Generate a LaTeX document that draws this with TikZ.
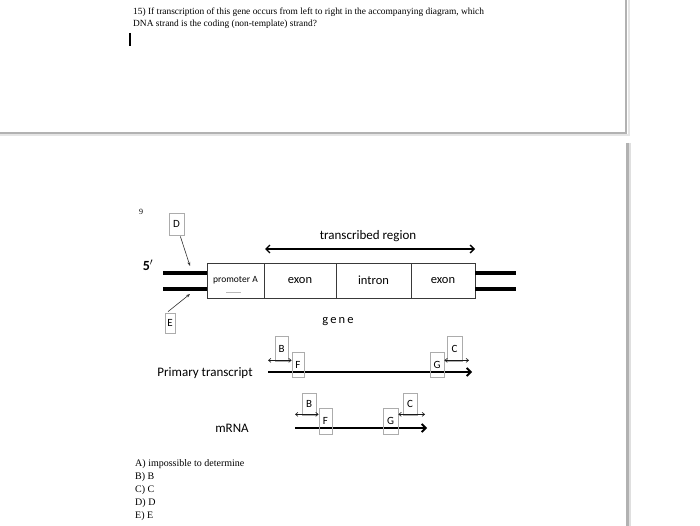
\documentclass[tikz,border=0pt]{standalone}
\usepackage{fontspec}
\setmainfont{Liberation Serif}
\newfontfamily\calfont{Carlito}
\usetikzlibrary{arrows.meta}
\begin{document}
\begin{tikzpicture}[x=1pt,y=-1pt,
  qtext/.style={font=\fontsize{9.4}{12}\selectfont, anchor=west, inner sep=0},
  ans/.style={font=\fontsize{10}{12}\selectfont, anchor=west, inner sep=0},
  lbl/.style={font=\calfont\fontsize{13}{15}\selectfont, inner sep=0},
  seg/.style={draw=gray!45!black, line width=0.8, inner sep=0, minimum height=35, font=\calfont\fontsize{12.5}{14}\selectfont},
  letterbox/.style={draw=gray!65, line width=0.7, inner sep=0, font=\calfont\fontsize{11}{12}\selectfont},
  dna/.style={line width=4, black},
  pointer/.style={draw=gray!40!black, line width=0.6, -{Stealth[length=4pt,width=3pt]}},
  spanarrow/.style={line width=1.4, {Straight Barb[length=4pt,width=8pt]}-{Straight Barb[length=4pt,width=8pt]}},
  rna/.style={line width=1.8, -{Straight Barb[length=4pt,width=8pt]}},
  darr/.style={line width=0.6, draw=gray!20!black, {Straight Barb[length=2.5pt,width=4pt]}-{Straight Barb[length=2.5pt,width=4pt]}},
  panel/.style={draw=gray!60, line width=2}
]
\useasboundingbox (0,0) rectangle (700,526);
\fill[white] (0,0) rectangle (700,526);

% panels
\draw[gray!20, line width=2] (0,135.5) -- (628.5,135.5) -- (628.5,0);
\draw[panel] (0,133) -- (626,133) -- (626,0);
\draw[gray!25, line width=2] (629.5,143) -- (629.5,526);
\draw[gray!60, line width=3] (627,143) -- (627,526);

% question
\node[qtext] (q1) at (133,12) {15) If transcription of this gene occurs from left to right in the accompanying diagram, which};
\node[qtext] (q2) at (133,24) {DNA strand is the coding (non-template) strand?};
\draw[line width=1.8] (130,33) -- (130,46);

\node[font=\fontsize{8}{9}\selectfont, inner sep=0] (nine) at (141,212) {9};

% gene box
\node[seg, minimum width=57, font=\calfont\fontsize{9.5}{11}\selectfont] (prom) at (235.5,280.5) {promoter A};
\node[seg, minimum width=72] (ex1) at (300,280.5) {exon};
\node[seg, minimum width=75] (intr) at (373.5,280.5) {intron};
\node[seg, minimum width=64] (ex2) at (443,280.5) {exon};
\draw[gray!55, line width=0.8] (226,292) -- (241,292);

% DNA strands
\coordinate (l1) at (163,273);
\coordinate (l2) at (163,289);
\coordinate (r1) at (516,273);
\coordinate (r2) at (516,289);
\draw[dna] (l1) -- (l1 -| prom.west);
\draw[dna] (l2) -- (l2 -| prom.west);
\draw[dna] (r1 -| ex2.east) -- (r1);
\draw[dna] (r2 -| ex2.east) -- (r2);

\node[font=\calfont\bfseries\fontsize{14}{16}\selectfont, inner sep=0] (five) at (148,265) {5$'$};

% transcribed region
\coordinate (t1) at (265,249);
\coordinate (t2) at (475,249);
\draw[spanarrow] (t1) -- (t2);
\node[lbl] (trl) at (368,236) {transcribed region};
\node[lbl, font=\calfont\fontsize{12.5}{14}\selectfont] (gene) at (338,322) {g\,e\,n\,e};

% D and E
\node[letterbox, minimum width=15, minimum height=22] (D) at (176.5,224) {D};
\node[letterbox, minimum width=10, minimum height=20] (E) at (170,323) {E};
\coordinate (dtip) at (190,266);
\coordinate (etip) at (190,294);
\draw[pointer] (D.south east) ++(-4,1) -- (dtip);
\draw[pointer] (E.north) ++(-2,-1) -- (etip);

% primary transcript
\node[lbl] (pt) at (205,373) {Primary transcript};
\coordinate (p1s) at (268,372);
\coordinate (p1e) at (472,372);
\draw[rna] (p1s) -- (p1e);
\node[letterbox, minimum width=13, minimum height=25] (B1) at (281.5,348.5) {B};
\node[letterbox, minimum width=12, minimum height=25] (F1) at (298,364.5) {F};
\node[letterbox, minimum width=14, minimum height=25] (G1) at (437,364.5) {G};
\node[letterbox, minimum width=15, minimum height=25] (C1) at (454.5,348.5) {C};
\draw[darr] ([yshift=1]B1.south -| p1s) -- ([yshift=1]B1.south -| F1.west);
\draw[darr] ([yshift=1]C1.south -| G1.east) -- ([yshift=1,xshift=-3]C1.south -| p1e);

% mRNA
\node[lbl] (mr) at (232,428) {mRNA};
\coordinate (m1s) at (295,428);
\coordinate (m1e) at (427,428);
\draw[rna] (m1s) -- (m1e);
\node[letterbox, minimum width=14, minimum height=22] (B2) at (309,404) {B};
\node[letterbox, minimum width=13, minimum height=26] (F2) at (325.5,421) {F};
\node[letterbox, minimum width=15, minimum height=26] (G2) at (390.5,421) {G};
\node[letterbox, minimum width=14, minimum height=22] (C2) at (410,404) {C};
\draw[darr] ([yshift=1]B2.south -| m1s) -- ([yshift=1]B2.south -| F2.west);
\draw[darr] ([yshift=1]C2.south -| G2.east) -- ([yshift=1,xshift=-2]C2.south -| m1e);

% answers
\node[ans] (a) at (135,464) {A) impossible to determine};
\node[ans] (b) at (135,477) {B) B};
\node[ans] (c) at (135,490) {C) C};
\node[ans] (d) at (135,503) {D) D};
\node[ans] (e) at (135,516) {E) E};
\end{tikzpicture}
\end{document}
